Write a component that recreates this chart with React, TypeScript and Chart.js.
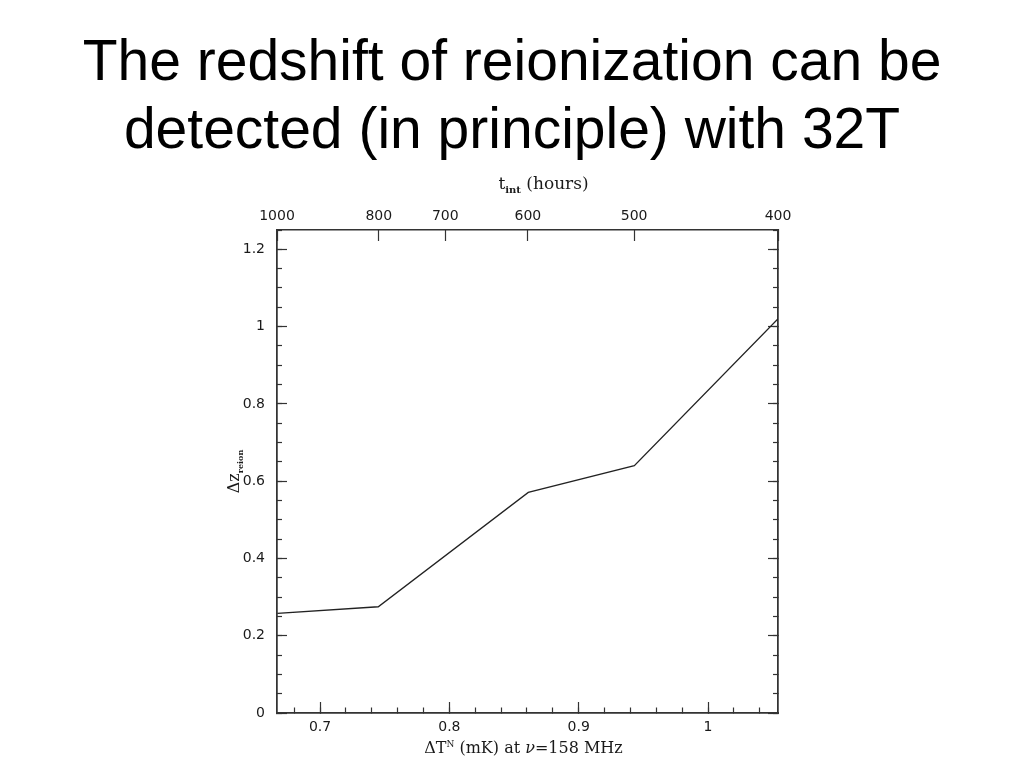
import { useEffect, useRef } from "react";
import { Chart, registerables } from "chart.js";

Chart.register(...registerables);

const TITLE = ["The redshift of reionization can be", "detected (in principle) with 32T"];

// ΔT^N (mK) read at the integration times of the top axis: 1000, 800, 600, 500, 400 h
const noiseMK = [0.667, 0.745, 0.861, 0.943, 1.054];
const deltaZ = [0.258, 0.275, 0.571, 0.64, 1.02];

const bottomTicks = [0.7, 0.8, 0.9, 1];
const leftTicks = [0, 0.2, 0.4, 0.6, 0.8, 1, 1.2];
const hourTicks = [1000, 800, 700, 600, 500, 400];

const X_MIN = 0.6667;
const X_MAX = 1.0541;
const Y_MIN = 0;
const Y_MAX = 1.25;

// noise goes as 1/sqrt(t): 0.6667 mK at 1000 hours
const hoursToMK = (h: number) => X_MIN * Math.sqrt(1000 / h);

const INK = "#333";
const TICK_FONT = { family: "DejaVu Sans", size: 14 };
const LABEL_FAMILY = '"DejaVu Serif"';

type Piece = { text: string; size: number; shift?: number; bold?: boolean; italic?: boolean };

const fontOf = (p: Piece) =>
  `${p.italic ? "italic " : ""}${p.bold ? "bold " : ""}${p.size}px ${LABEL_FAMILY}`;

const drawPieces = (ctx: CanvasRenderingContext2D, pieces: Piece[], cx: number, baseline: number) => {
  let total = 0;
  pieces.forEach((p) => {
    ctx.font = fontOf(p);
    total += ctx.measureText(p.text).width;
  });
  let x = cx - total / 2;
  ctx.textAlign = "left";
  ctx.textBaseline = "alphabetic";
  pieces.forEach((p) => {
    ctx.font = fontOf(p);
    ctx.fillText(p.text, x, baseline + (p.shift ?? 0));
    x += ctx.measureText(p.text).width;
  });
};

// axis titles with sub/superscripts
const axisTitles = {
  id: "axisTitles",
  afterDraw(chart: Chart) {
    const { ctx, chartArea } = chart;
    const midX = (chartArea.left + chartArea.right) / 2;
    const midY = (chartArea.top + chartArea.bottom) / 2;
    ctx.save();
    ctx.fillStyle = "#1a1a1a";

    drawPieces(
      ctx,
      [
        { text: "t", size: 17 },
        { text: "int", size: 10, shift: 4, bold: true },
        { text: " (hours)", size: 17 },
      ],
      midX + 16,
      chart.scales.xTop.top + 19
    );

    drawPieces(
      ctx,
      [
        { text: "ΔT", size: 16 },
        { text: "N", size: 9, shift: -6 },
        { text: " (mK) at ", size: 16 },
        { text: "ν", size: 16, italic: true },
        { text: "=158 MHz", size: 16 },
      ],
      midX - 4,
      chart.scales.x.top + 40
    );

    ctx.translate(chartArea.left - 38, midY);
    ctx.rotate(-Math.PI / 2);
    drawPieces(
      ctx,
      [
        { text: "Δz", size: 16 },
        { text: "reion", size: 8, shift: 4, bold: true },
      ],
      0,
      0
    );
    ctx.restore();
  },
};

const setTicks = (values: number[]) => (scale: any) => {
  scale.ticks = values.map((value) => ({ value }));
};

const fixSize = (size: number) => (scale: any) => {
  if (scale.isHorizontal()) scale.height = size;
  else scale.width = size;
};

const edgeAxis = (position: string, axis: "x" | "y", tickLength: number, size: number, weight: number) => ({
  type: "linear" as const,
  axis,
  position,
  weight,
  min: axis === "x" ? X_MIN : Y_MIN,
  max: axis === "x" ? X_MAX : Y_MAX,
  afterFit: fixSize(size),
  grid: {
    drawOnChartArea: false,
    drawTicks: true,
    tickLength,
    tickColor: INK,
    tickWidth: 1.2,
  },
  border: { display: true, color: INK, width: 1.5 },
});

const App = () => {
  const canvasRef = useRef<HTMLCanvasElement>(null);

  useEffect(() => {
    if (!canvasRef.current) return;

    const chart = new Chart(canvasRef.current, {
      type: "line",
      data: {
        datasets: [
          {
            data: noiseMK.map((x, i) => ({ x, y: deltaZ[i] })),
            borderColor: "#222",
            borderWidth: 1.3,
            pointRadius: 0,
            tension: 0,
            xAxisID: "x",
            yAxisID: "y",
          },
        ],
      },
      options: {
        responsive: true,
        maintainAspectRatio: false,
        animation: false,
        layout: { padding: 0 },
        plugins: {
          legend: { display: false },
          tooltip: { enabled: false },
          title: {
            display: true,
            text: TITLE,
            color: "#000",
            font: { family: "Liberation Sans", size: 57, weight: "normal", lineHeight: 1.2 },
            padding: { top: 30, bottom: 3 },
          },
        },
        scales: {
          x: {
            ...edgeAxis("bottom", "x", -11, 55, 0),
            afterBuildTicks: setTicks(bottomTicks),
            ticks: {
              autoSkip: false,
              padding: 17,
              color: "#1a1a1a",
              font: TICK_FONT,
              callback: (v: any) => String(Number(v)),
            },
          },
          xMinor: {
            ...edgeAxis("bottom", "x", -5.5, 0, -1),
            ticks: { display: false, stepSize: 0.02, includeBounds: false },
          },
          xTop: {
            ...edgeAxis("top", "x", -11, 60.2, 0),
            afterBuildTicks: setTicks(hourTicks.map(hoursToMK)),
            ticks: {
              autoSkip: false,
              padding: 16,
              color: "#1a1a1a",
              font: TICK_FONT,
              callback: (_v: any, i: number) => String(hourTicks[i]),
            },
          },
          y: {
            ...edgeAxis("left", "y", -10, 277, 0),
            afterBuildTicks: setTicks(leftTicks),
            ticks: {
              autoSkip: false,
              padding: 22,
              color: "#1a1a1a",
              font: TICK_FONT,
              callback: (v: any) => String(Number(v)),
            },
          },
          yMinor: {
            ...edgeAxis("left", "y", -5, 0, -1),
            ticks: { display: false, stepSize: 0.05, includeBounds: false },
          },
          yRight: {
            ...edgeAxis("right", "y", -10, 246, 0),
            afterBuildTicks: setTicks(leftTicks),
            ticks: { display: false },
          },
          yRightMinor: {
            ...edgeAxis("right", "y", -5, 0, -1),
            ticks: { display: false, stepSize: 0.05, includeBounds: false },
          },
        },
      } as any,
      plugins: [axisTitles],
    });

    return () => {
      chart.destroy();
    };
  }, []);

  return (
    <div style={{ position: "absolute", left: 0, top: 0, width: 1024, height: 768, background: "#fff" }}>
      <canvas ref={canvasRef} />
    </div>
  );
};

export default App;
